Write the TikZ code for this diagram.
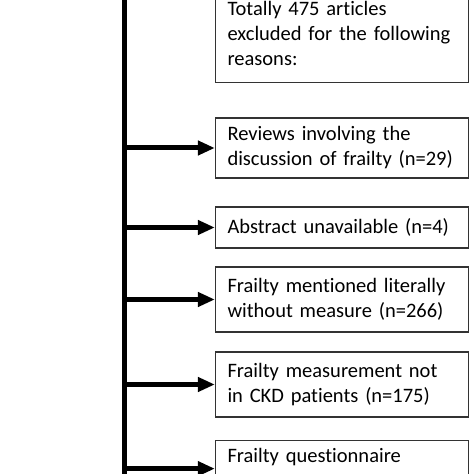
\documentclass[tikz,border=0pt]{standalone}
\usepackage{fontspec}
\setmainfont{Carlito}[Ligatures=NoCommon]
\usepackage{tikz}
\usetikzlibrary{arrows.meta, positioning, calc}

\tikzset{
  %% Reason box
  rbox/.style={
    rectangle, draw=black!80, fill=white,
    line width=1.3pt, align=left,
    text width=229pt, inner xsep=12pt, inner ysep=6pt,
    font=\fontsize{20.5}{25}\selectfont
  },
  %% Arrow from the spine
  arr/.style={-{Triangle[length=17pt,width=14pt]},
              draw=black, line width=5pt},
  %% Spine
  spine/.style={draw=black, line width=5pt},
}

\begin{document}
\begin{tikzpicture}[x=1pt, y=1pt]

  \useasboundingbox (0,0) rectangle (474,474);
  \clip (0,0) rectangle (474,474);

  %% Vertical spine
  \coordinate (top) at (124.5,480);
  \coordinate (bot) at (124.5,-10);
  \draw[spine] (top) -- (bot);

  %% Boxes
  \node[rbox, anchor=south, minimum height=97pt] (total) at (342,391)
       {Totally 475 articles\\excluded for the following\\reasons:};
  \node[rbox, minimum height=60pt] (reviews) at (342,326)
       {Reviews involving the\\discussion of frailty (n=29)};
  \node[rbox, minimum height=41pt] (abstract) at (342,246.5)
       {Abstract unavailable (n=4)};
  \node[rbox, minimum height=65pt] (literal) at (342,174.5)
       {Frailty mentioned literally\\without measure (n=266)};
  \node[rbox, minimum height=65pt] (notckd) at (342,89.5)
       {Frailty measurement not\\in CKD patients (n=175)};
  \node[rbox, anchor=north, text height=15.4pt, text depth=28.6pt]
       (quest) at (342,34)
       {Frailty questionnaire};

  %% Arrows
  \foreach \b in {reviews, abstract, literal, notckd, quest}
    \draw[arr] (top |- \b.west) -- (\b.west);

\end{tikzpicture}
\end{document}
